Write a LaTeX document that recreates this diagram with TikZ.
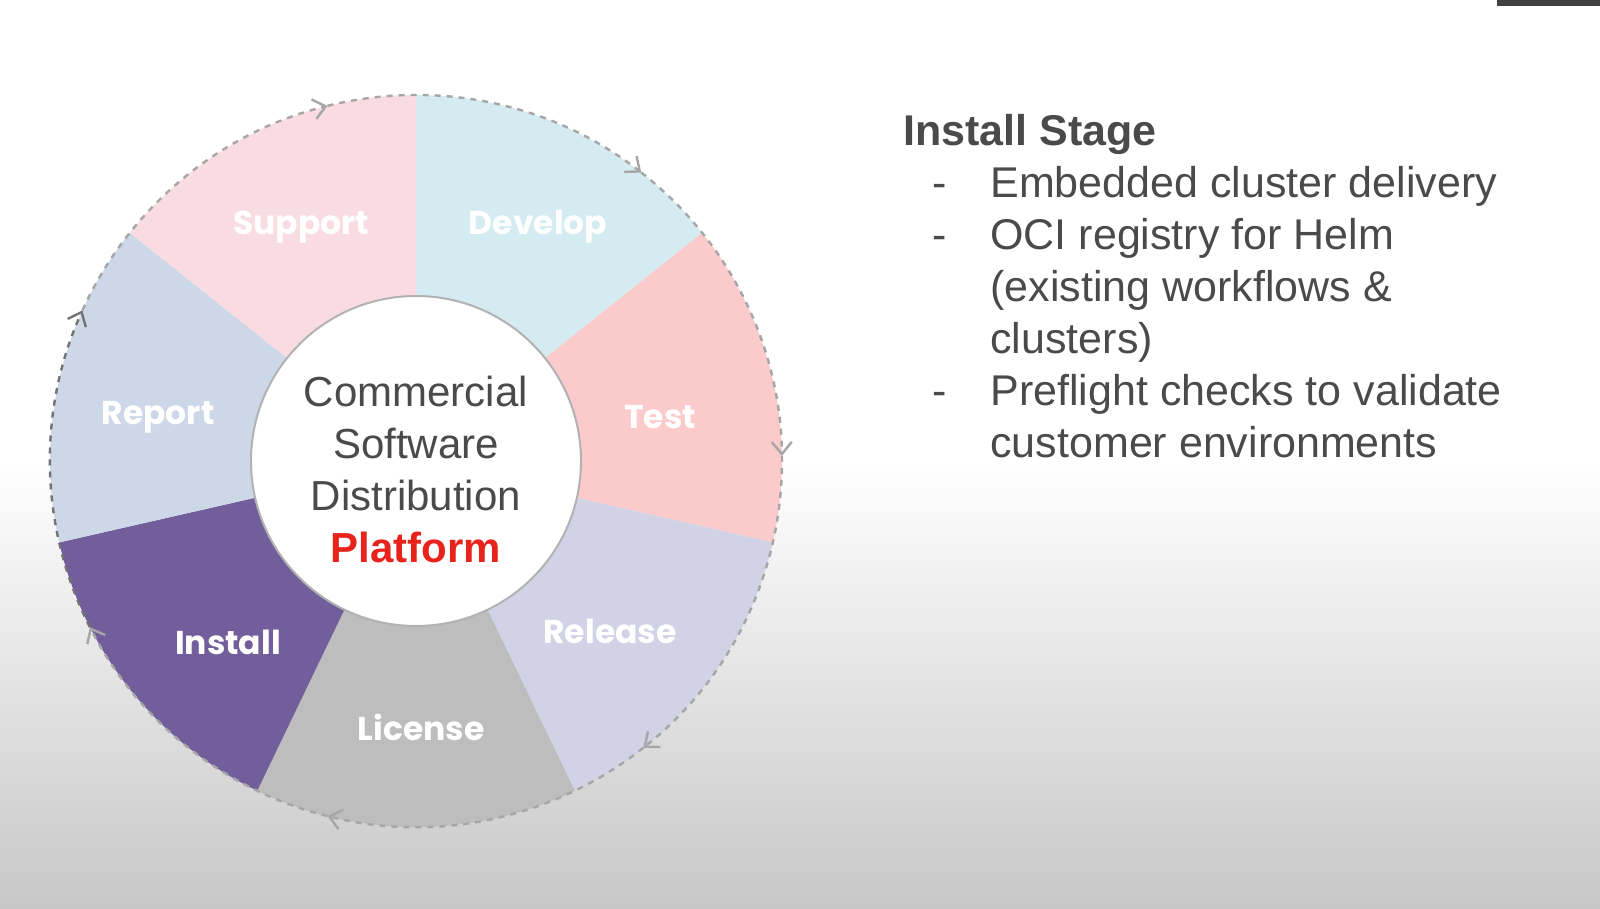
\documentclass[tikz,border=0pt]{standalone}
\usepackage{fontspec}
\setmainfont{Liberation Sans}
\newfontfamily\pop{Poppins}
\usetikzlibrary{arrows.meta}
\definecolor{txt}{HTML}{4A4A4A}
\definecolor{cSup}{HTML}{F9DCE2}
\definecolor{cDev}{HTML}{D4EBF1}
\definecolor{cTest}{HTML}{FBCBCB}
\definecolor{cRel}{HTML}{D2D2E6}
\definecolor{cLic}{HTML}{BDBDBD}
\definecolor{cIns}{HTML}{735E9C}
\definecolor{cRep}{HTML}{CCD8E8}
\definecolor{pred}{HTML}{E8231B}
\tikzset{
  seglab/.style={text=white,font=\pop\bfseries\fontsize{16.5}{18}\selectfont},
  ctr/.style={text=txt,font=\fontsize{21}{26}\selectfont,align=center},
  item/.style={anchor=base west,text=txt,font=\fontsize{21.5}{24}\selectfont,inner sep=0},
  ring/.style={draw=gray!70,dashed,line width=1.2pt,-{Straight Barb[length=6pt,width=10pt]}}
}
\begin{document}
\begin{tikzpicture}[x=0.5pt,y=0.5pt]
\useasboundingbox (0,0) rectangle (1600,909);
\fill[white] (0,0) rectangle (1600,909);
\shade[top color=white,bottom color=black!22] (0,0) rectangle (1600,450);
\fill[black!75] (1497,903) rectangle (1600,909);
\begin{scope}[shift={(416,448)}]
  \def\R{366}
  \fill[cDev] (0,0) -- (90:\R) arc (90:38.57:\R) -- cycle;
  \fill[cTest] (0,0) -- (38.57:\R) arc (38.57:-12.86:\R) -- cycle;
  \fill[cRel] (0,0) -- (-12.86:\R) arc (-12.86:-64.29:\R) -- cycle;
  \fill[cLic] (0,0) -- (-64.29:\R) arc (-64.29:-115.71:\R) -- cycle;
  \fill[cIns] (0,0) -- (-115.71:\R) arc (-115.71:-167.14:\R) -- cycle;
  \fill[cRep] (0,0) -- (-167.14:\R) arc (-167.14:-218.57:\R) -- cycle;
  \fill[cSup] (0,0) -- (141.43:\R) arc (141.43:90:\R) -- cycle;
  \draw[ring] (155.7:\R) arc (155.7:104:\R);
  \draw[ring] (104:\R) arc (104:52:\R);
  \draw[ring] (52:\R) arc (52:0.8:\R);
  \draw[ring] (0.8:\R) arc (0.8:-51.6:\R);
  \draw[ring] (-51.6:\R) arc (-51.6:-104:\R);
  \draw[ring] (-104:\R) arc (-104:-153:\R);
  \draw[ring,draw=black!55] (-153:\R) arc (-153:-204.3:\R);
  \node[circle,fill=white,draw=gray!60,line width=1pt,minimum size=165pt,inner sep=0] (hub) at (0,0) {};
\end{scope}
\node[ctr] (c) at (416,440) {Commercial\\Software\\Distribution\\{\bfseries\color{pred}Platform}};
\node[seglab] (sup) at (301,682) {Support};
\node[seglab] (dev) at (538,682) {Develop};
\node[seglab] (tst) at (660,492) {Test};
\node[seglab] (rel) at (610,278) {Release};
\node[seglab] (lic) at (421,182) {License};
\node[seglab] (ins) at (228,267) {Install};
\node[seglab] (rep) at (158,492) {Report};
\node[item,font=\bfseries\fontsize{21.5}{24}\selectfont] (t) at (903,763) {Install Stage};
\node[item] (d1) at (932,711) {-};
\node[item] (i1) at (990,711) {Embedded cluster delivery};
\node[item] (d2) at (932,659) {-};
\node[item] (i2) at (990,659) {OCI registry for Helm};
\node[item] (i3) at (990,607) {(existing workflows \&};
\node[item] (i4) at (990,555) {clusters)};
\node[item] (d3) at (932,503) {-};
\node[item] (i5) at (990,503) {Preflight checks to validate};
\node[item] (i6) at (990,451) {customer environments};
\end{tikzpicture}
\end{document}
